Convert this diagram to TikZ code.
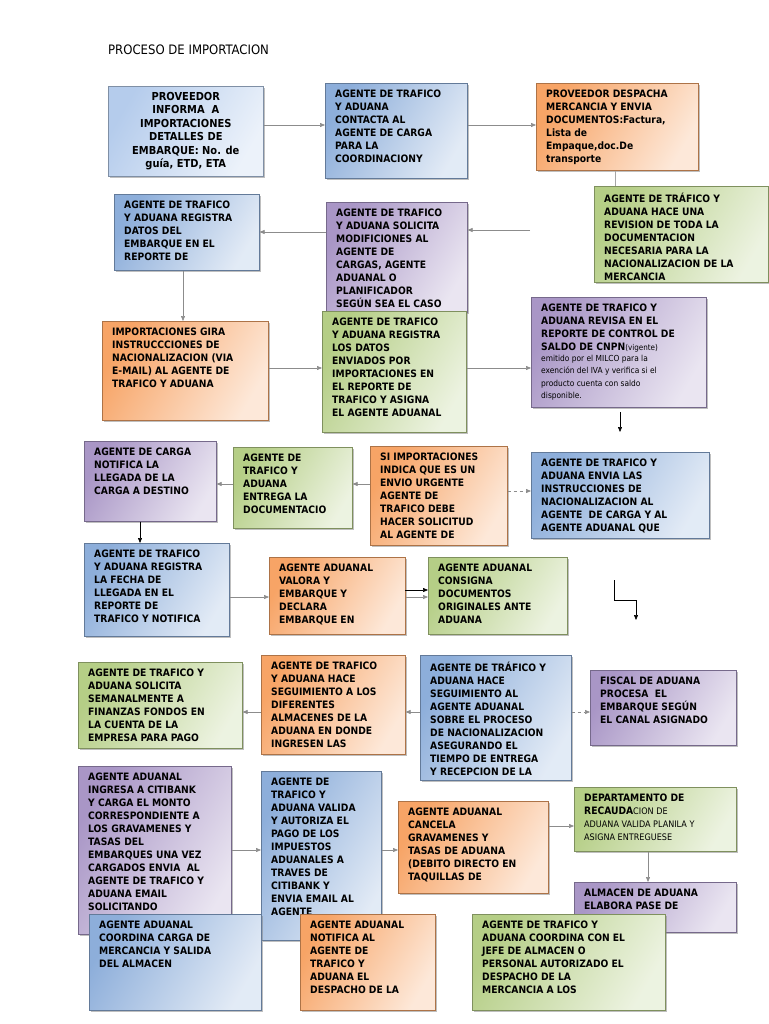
\documentclass[tikz,border=0pt]{standalone}
\usepackage{fontspec}
\setmainfont{DejaVu Sans Condensed}
\usetikzlibrary{shadows,arrows.meta}
\definecolor{cb}{HTML}{8DAEDA}\definecolor{co}{HTML}{F7A466}\definecolor{cg}{HTML}{B5CE86}\definecolor{cp}{HTML}{A996C6}
\definecolor{cbl}{HTML}{B5CCEC}
\tikzset{
 bx/.style={draw=#1!70!black, line width=0.6pt, left color=#1, right color=#1!25, shading angle=60,
   drop shadow={shadow xshift=1.5pt,shadow yshift=-1.5pt,fill=black!50}, inner sep=0pt},
 tx/.style={anchor=north west, align=left, inner sep=0pt, font=\bfseries\fontsize{10.2}{13}\selectfont},
 ar/.style={-{Triangle[length=5pt,width=4pt]}, draw=black!45, line width=0.6pt},
 ln/.style={draw=black!35, line width=0.6pt}
}
\newcommand{\bxx}[7]{\node[bx=#6, minimum width=#4pt-#2pt, minimum height=#5pt-#3pt, anchor=north west] (#1) at (#2,#3) {};
 \node[tx] (#1t) at ([xshift=10pt,yshift=-7pt]#1.north west) {#7};}
\begin{document}
\begin{tikzpicture}[x=1pt,y=-1pt]
\useasboundingbox (0,0) rectangle (768,1024);
\fill[white] (0,0) rectangle (768,1024);
\node[anchor=west, inner sep=0pt, font=\fontsize{13}{15}\selectfont] (title) at (108,50) {PROCESO DE IMPORTACION};
\node[bx=cbl, minimum width=155pt, minimum height=90pt, anchor=north west] (b1) at (108,86) {};
\node[align=center, inner sep=0pt, font=\bfseries\fontsize{11}{13.5}\selectfont] (b1t) at (b1) {PROVEEDOR\\INFORMA \ A\\IMPORTACIONES\\DETALLES DE\\EMBARQUE: No. de\\guía, ETD, ETA};
\bxx{b2}{325}{83}{467}{178}{cb}{AGENTE DE TRAFICO\\Y ADUANA\\CONTACTA AL\\AGENTE DE CARGA\\PARA LA\\COORDINACIONY}
\bxx{b3}{536}{83}{698}{170}{co}{PROVEEDOR DESPACHA\\MERCANCIA Y ENVIA\\DOCUMENTOS:Factura,\\Lista de\\Empaque,doc.De\\transporte}
\bxx{b4}{594}{186}{768}{282}{cg}{AGENTE DE TRÁFICO Y\\ADUANA HACE UNA\\REVISION DE TODA LA\\DOCUMENTACION\\NECESARIA PARA LA\\NACIONALIZACION DE LA\\MERCANCIA}
\bxx{b5}{114}{194}{259}{270}{cb}{AGENTE DE TRAFICO\\Y ADUANA REGISTRA\\DATOS DEL\\EMBARQUE EN EL\\REPORTE DE}
\bxx{b6}{326}{202}{467}{312}{cp}{AGENTE DE TRAFICO\\Y ADUANA SOLICITA\\MODIFICIONES AL\\AGENTE DE\\CARGAS, AGENTE\\ADUANAL O\\PLANIFICADOR\\SEGÚN SEA EL CASO}
\bxx{b7}{102}{321}{268}{420}{co}{IMPORTACIONES GIRA\\INSTRUCCCIONES DE\\NACIONALIZACION (VIA\\E-MAIL) AL AGENTE DE\\TRAFICO Y ADUANA}
\bxx{b8}{322}{311}{466}{432}{cg}{AGENTE DE TRAFICO\\Y ADUANA REGISTRA\\LOS DATOS\\ENVIADOS POR\\IMPORTACIONES EN\\EL REPORTE DE\\TRAFICO Y ASIGNA\\EL AGENTE ADUANAL}
\node[bx=cp, minimum width=175pt, minimum height=110pt, anchor=north west] (b9) at (531,297) {};
\node[tx] (b9t) at ([xshift=10pt,yshift=-7pt]b9.north west) {AGENTE DE TRAFICO Y\\ADUANA REVISA EN EL\\REPORTE DE CONTROL DE\\SALDO DE CNPN{\mdseries\fontsize{8}{13}\selectfont(vigente)}};
\node[tx, font=\fontsize{8.3}{12.5}\selectfont] at ([yshift=-2pt]b9t.south west) {emitido por el MILCO para la\\exención del IVA y verifica si el\\producto cuenta con saldo\\disponible.};
\bxx{b10}{84}{441}{216}{521}{cp}{AGENTE DE CARGA\\NOTIFICA LA\\LLEGADA DE LA\\CARGA A DESTINO}
\bxx{b11}{233}{447}{352}{528}{cg}{AGENTE DE\\TRAFICO Y\\ADUANA\\ENTREGA LA\\DOCUMENTACIO}
\bxx{b12}{370}{446}{507}{545}{co}{SI IMPORTACIONES\\INDICA QUE ES UN\\ENVIO URGENTE\\AGENTE DE\\TRAFICO DEBE\\HACER SOLICITUD\\AL AGENTE DE}
\bxx{b13}{531}{452}{709}{538}{cb}{AGENTE DE TRAFICO Y\\ADUANA ENVIA LAS\\INSTRUCCIONES DE\\NACIONALIZACION AL\\AGENTE \ DE CARGA Y AL\\AGENTE ADUANAL QUE}
\bxx{b14}{84}{543}{229}{636}{cb}{AGENTE DE TRAFICO\\Y ADUANA REGISTRA\\LA FECHA DE\\LLEGADA EN EL\\REPORTE DE\\TRAFICO Y NOTIFICA}
\bxx{b15}{269}{557}{405}{634}{co}{AGENTE ADUANAL\\VALORA Y\\EMBARQUE Y\\DECLARA\\EMBARQUE EN}
\bxx{b16}{428}{557}{567}{634}{cg}{AGENTE ADUANAL\\CONSIGNA\\DOCUMENTOS\\ORIGINALES ANTE\\ADUANA}
\bxx{b17}{78}{662}{242}{748}{cg}{AGENTE DE TRAFICO Y\\ADUANA SOLICITA\\SEMANALMENTE A\\FINANZAS FONDOS EN\\LA CUENTA DE LA\\EMPRESA PARA PAGO}
\bxx{b18}{261}{655}{405}{754}{co}{AGENTE DE TRAFICO\\Y ADUANA HACE\\SEGUIMIENTO A LOS\\DIFERENTES\\ALMACENES DE LA\\ADUANA EN DONDE\\INGRESEN LAS}
\bxx{b19}{420}{655}{571}{780}{cb}{AGENTE DE TRÁFICO Y\\ADUANA HACE\\SEGUIMIENTO AL\\AGENTE ADUANAL\\SOBRE EL PROCESO\\DE NACIONALIZACION\\ASEGURANDO EL\\TIEMPO DE ENTREGA\\Y RECEPCION DE LA}
\bxx{b20}{590}{670}{736}{745}{cp}{FISCAL DE ADUANA\\PROCESA \ EL\\EMBARQUE SEGÚN\\EL CANAL ASIGNADO}
\bxx{b21}{78}{766}{231}{934}{cp}{AGENTE ADUANAL\\INGRESA A CITIBANK\\Y CARGA EL MONTO\\CORRESPONDIENTE A\\LOS GRAVAMENES Y\\TASAS DEL\\EMBARQUES UNA VEZ\\CARGADOS ENVIA \ AL\\AGENTE DE TRAFICO Y\\ADUANA EMAIL\\SOLICITANDO}
\bxx{b22}{261}{771}{381}{940}{cb}{AGENTE DE\\TRAFICO Y\\ADUANA VALIDA\\Y AUTORIZA EL\\PAGO DE LOS\\IMPUESTOS\\ADUANALES A\\TRAVES DE\\CITIBANK Y\\ENVIA EMAIL AL\\AGENTE}
\bxx{b23}{398}{801}{548}{893}{co}{AGENTE ADUANAL\\CANCELA\\GRAVAMENES Y\\TASAS DE ADUANA\\(DEBITO DIRECTO EN\\TAQUILLAS DE}
\node[bx=cg, minimum width=162pt, minimum height=64pt, anchor=north west] (b24) at (574,787) {};
\node[tx] (b24t) at ([xshift=10pt,yshift=-7pt]b24.north west) {DEPARTAMENTO DE\\RECAUDA{\mdseries\fontsize{9}{13}\selectfont CION DE}\\{\mdseries\fontsize{9}{13}\selectfont ADUANA VALIDA PLANILA Y}\\{\mdseries\fontsize{9}{13}\selectfont ASIGNA ENTREGUESE}};
\bxx{b25}{574}{882}{736}{932}{cp}{ALMACEN DE ADUANA\\ELABORA PASE DE}
\bxx{b26}{89}{914}{261}{1010}{cb}{AGENTE ADUANAL\\COORDINA CARGA DE\\MERCANCIA Y SALIDA\\DEL ALMACEN}
\bxx{b27}{300}{914}{435}{1010}{co}{AGENTE ADUANAL\\NOTIFICA AL\\AGENTE DE\\TRAFICO Y\\ADUANA EL\\DESPACHO DE LA}
\bxx{b28}{472}{914}{665}{1010}{cg}{AGENTE DE TRAFICO Y\\ADUANA COORDINA CON EL\\JEFE DE ALMACEN O\\PERSONAL AUTORIZADO EL\\DESPACHO DE LA\\MERCANCIA A LOS}
% connectors
\draw[ar] (b1.east |- 0,125) -- (b2.west |- 0,125);
\draw[ar] (b2.east |- 0,125) -- (b3.west |- 0,125);
\draw[ln] (b3.south -| 615,0) -- (b4.north -| 615,0);
\draw[ar] (530,230) -- (b6.east |- 0,230);
\draw[ar] (b6.west |- 0,232) -- (b5.east |- 0,232);
\draw[ar] (b5.south -| 183,0) -- (b7.north -| 183,0);
\draw[ar] (b7.east |- 0,368) -- (b8.west |- 0,368);
\draw[ar] (b8.east |- 0,368) -- (b9.west |- 0,368);
\draw[ar, draw=black] (620,412) -- (620,432);
\draw[ar, dashed] (b12.east |- 0,491) -- (b13.west |- 0,491);
\draw[ar] (b12.west |- 0,484) -- (b11.east |- 0,484);
\draw[ar] (b11.west |- 0,484) -- (b10.east |- 0,484);
\draw[ar, draw=black] (b10.south -| 140,0) -- (b14.north -| 140,0);
\draw[ar] (b14.east |- 0,597) -- (b15.west |- 0,597);
\draw[ar, draw=black] (405,590) -- (b16.west |- 0,590);
\draw[ar] (b15.east |- 0,597) -- (b16.west |- 0,597);
\draw[ar, draw=black] (614,580) -- (614,600) -- (636,600) -- (636,620);
\draw[ar] (b19.west |- 0,712) -- (b18.east |- 0,712);
\draw[ar] (b18.west |- 0,712) -- (b17.east |- 0,712);
\draw[ar, dashed] (b19.east |- 0,712) -- (b20.west |- 0,712);
\draw[ar] (b21.east |- 0,850) -- (b22.west |- 0,850);
\draw[ar] (b22.east |- 0,850) -- (b23.west |- 0,850);
\draw[ar] (b23.east |- 0,826) -- (b24.west |- 0,826);
\draw[ar] (b24.south -| 648,0) -- (b25.north -| 648,0);
\end{tikzpicture}
\end{document}
